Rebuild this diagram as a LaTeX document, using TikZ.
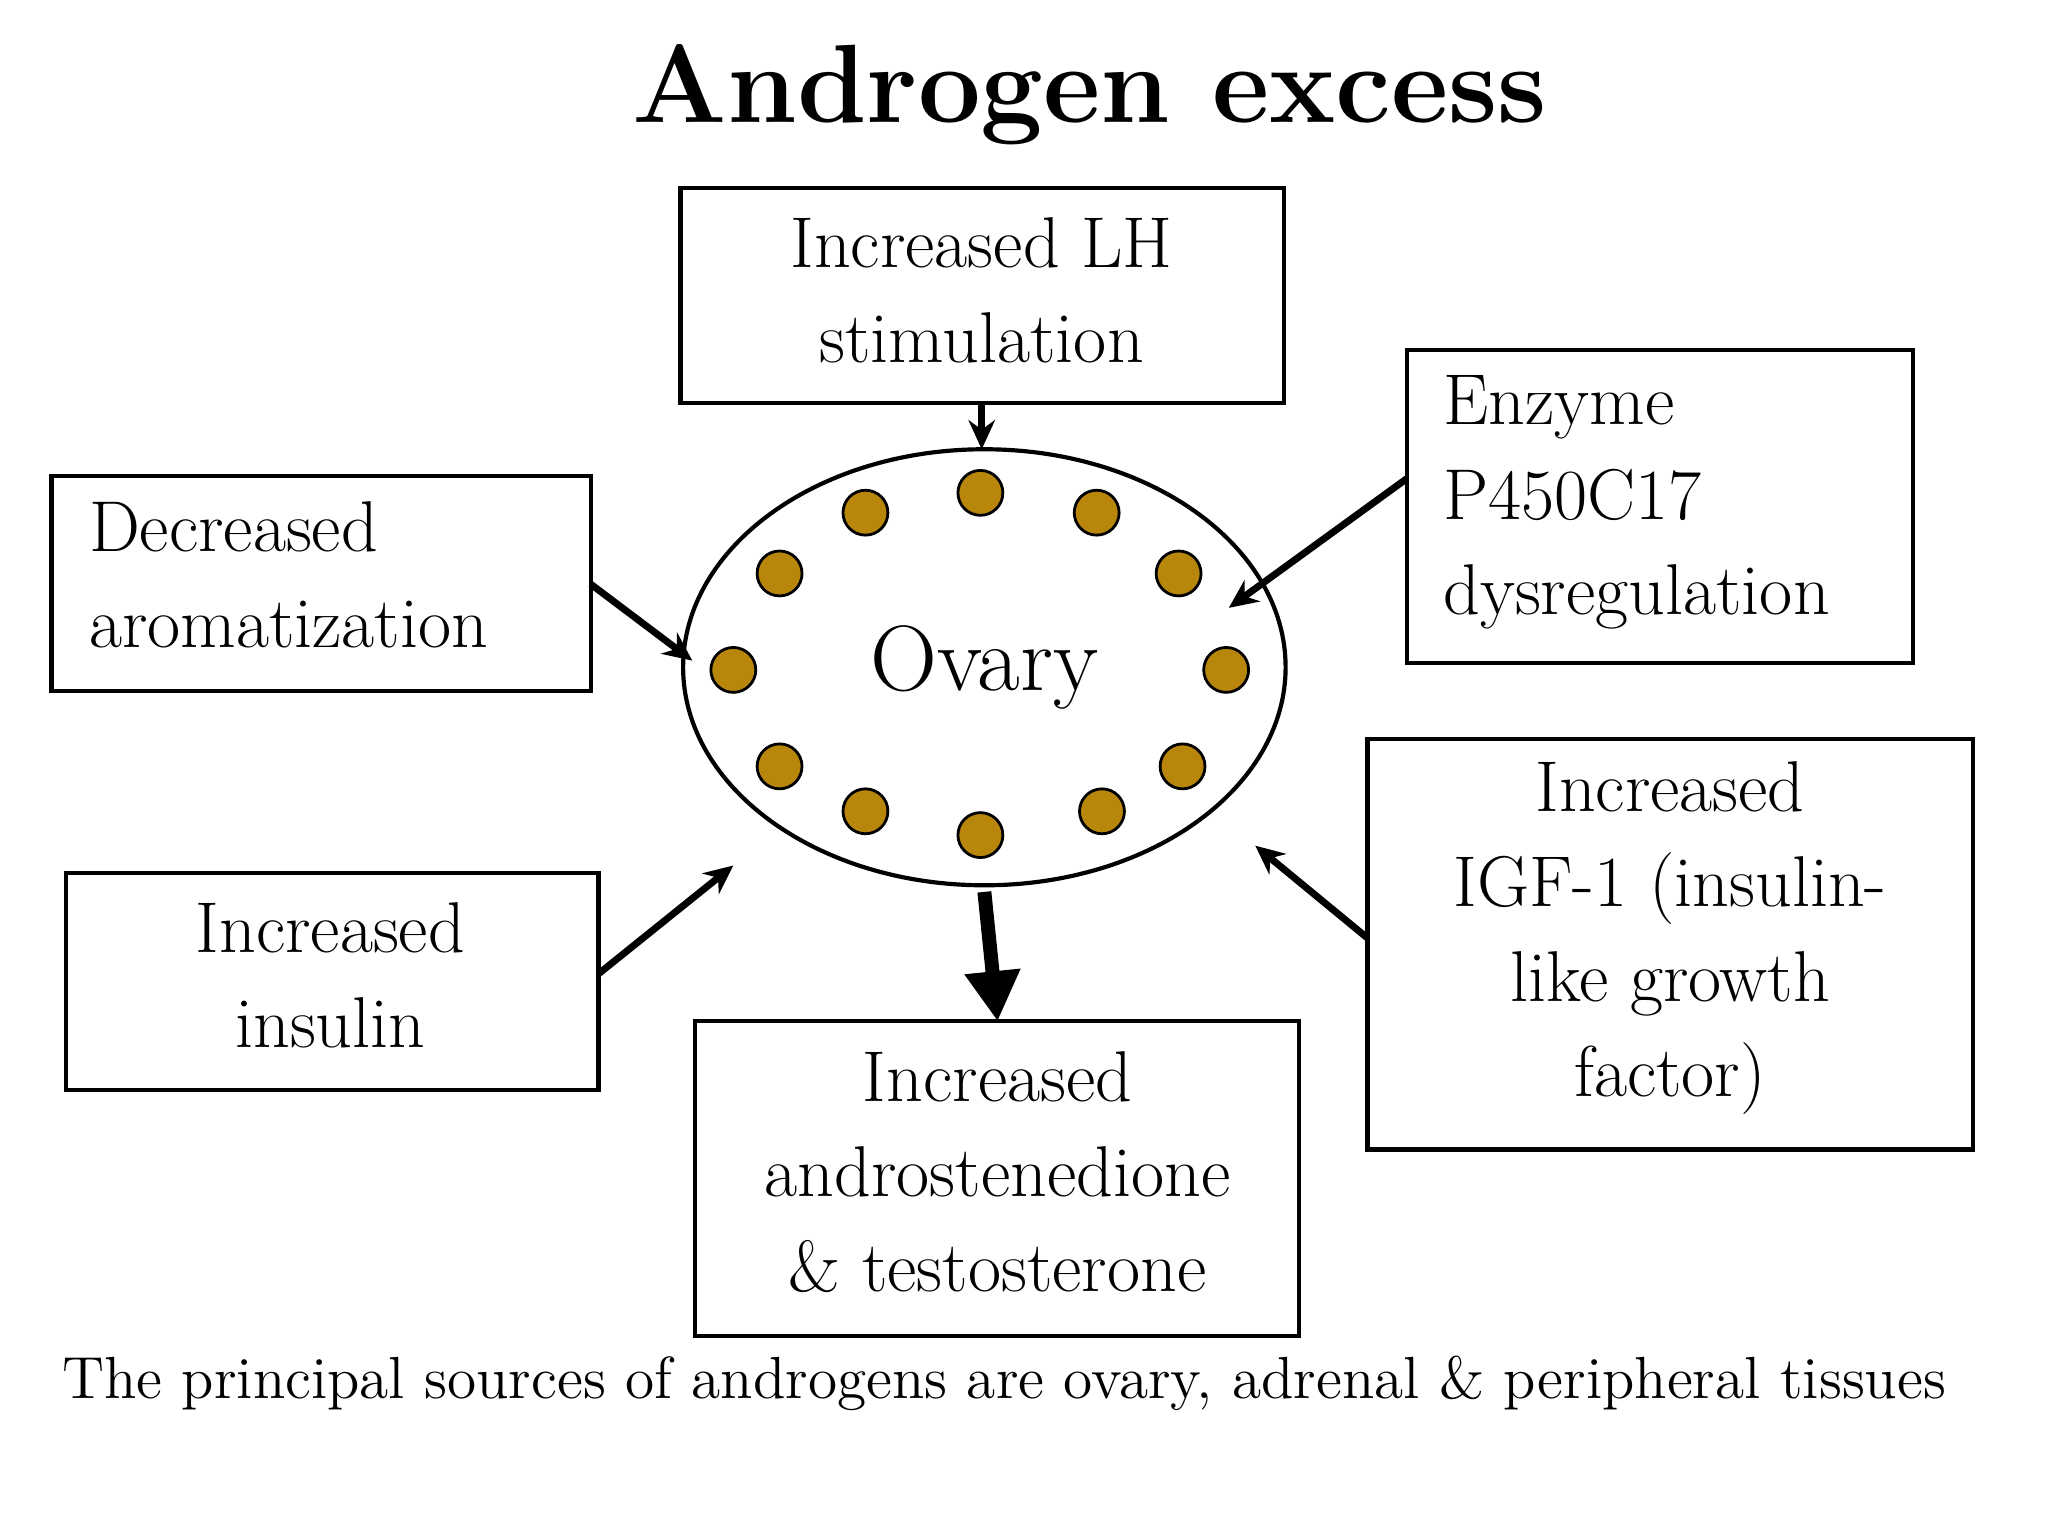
\documentclass[tikz,border=0pt]{standalone}
\usetikzlibrary{arrows.meta,shapes.geometric}
\begin{document}
\begin{tikzpicture}[x=1cm,y=-1cm,
  box/.style={draw,line width=0.9pt,inner sep=0pt},
  txt/.style={font=\fontsize{15.5}{20.5}\selectfont,align=center},
  dot/.style={circle,draw,fill=dotc,minimum size=0.34cm,inner sep=0pt,line width=0.6pt},
  arr/.style={-{Stealth[length=0.22cm,width=0.2cm]},line width=1.5pt}]
\definecolor{dotc}{HTML}{B8860B}
\useasboundingbox (0,0) rectangle (15.5,11.625);
\node[font=\fontsize{24}{30}\selectfont\bfseries] (title) at (8.25,0.72) {Androgen excess};
\draw[box] (5.15,1.42) rectangle (9.72,3.05);
\node[txt] (lh) at (7.43,2.2) {Increased LH\\stimulation};
\coordinate (lhs) at (7.43,3.05);
\draw[box] (0.39,3.6) rectangle (4.47,5.23);
\node[txt,align=left,anchor=west] (arom) at (0.55,4.35) {Decreased\\aromatization};
\coordinate (aromr) at (4.47,4.42);
\draw[box] (10.65,2.65) rectangle (14.48,5.02);
\node[txt,align=left,anchor=west] (enz) at (10.8,3.8) {Enzyme\\P450C17\\dysregulation};
\coordinate (enzl) at (10.65,3.62);
\draw[box] (0.5,6.61) rectangle (4.53,8.25);
\node[txt] (ins) at (2.5,7.38) {Increased\\insulin};
\coordinate (insr) at (4.53,7.37);
\draw[box] (10.35,5.59) rectangle (14.93,8.7);
\node[txt] (igf) at (12.64,7.1) {Increased\\IGF-1 (insulin-\\like growth\\factor)};
\coordinate (igfl) at (10.35,7.1);
\draw[box] (5.26,7.73) rectangle (9.83,10.11);
\node[txt] (andro) at (7.55,8.87) {Increased\\androstenedione\\\& testosterone};
\coordinate (andron) at (7.55,7.73);
\node[draw,ellipse,line width=0.9pt,minimum width=4.56cm,minimum height=3.3cm] (ov) at (7.45,5.05) {};
\node[font=\fontsize{20}{24}\selectfont] at (7.45,5.05) {Ovary};
\foreach \x/\y in {7.42/3.73,8.3/3.88,8.92/4.34,9.28/5.07,8.95/5.8,8.34/6.14,7.42/6.32,6.55/6.14,5.9/5.8,5.55/5.07,5.9/4.34,6.55/3.88}
  \node[dot] at (\x,\y) {};
\coordinate (ovlh) at (7.43,3.4);
\coordinate (ovar) at (5.24,5.0);
\coordinate (oven) at (9.3,4.6);
\coordinate (ovin) at (5.55,6.55);
\coordinate (ovig) at (9.5,6.4);
\coordinate (ovan) at (7.45,6.75);
\draw[arr] (lhs) -- (ovlh);
\draw[arr] (aromr) -- (ovar);
\draw[arr] (enzl) -- (oven);
\draw[arr] (insr) -- (ovin);
\draw[arr] (igfl) -- (ovig);
\draw[-{Triangle[length=0.38cm,width=0.4cm]},line width=3pt] (ovan) -- (andron);
\node[font=\fontsize{12.8}{15}\selectfont] (cap) at (7.6,10.47) {The principal sources of androgens are ovary, adrenal \& peripheral tissues};
\end{tikzpicture}
\end{document}
